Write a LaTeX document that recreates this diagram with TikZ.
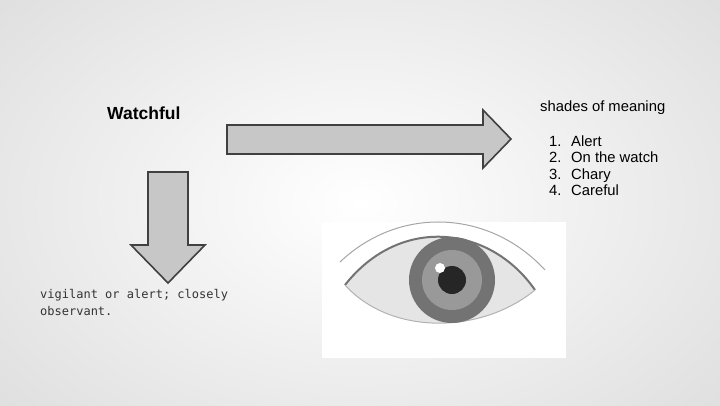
\documentclass[tikz,border=0pt]{standalone}
\usepackage{fontspec}
\setmainfont{Liberation Sans}
\newfontfamily\monof{DejaVu Sans Mono}
\begin{document}
\begin{tikzpicture}[x=1pt,y=-1pt,
  arrowshape/.style={fill=black!22,draw=black!75,line width=1.6pt,line join=miter},
  txt/.style={inner sep=0pt,anchor=base west,font=\fontsize{14.8pt}{16pt}\selectfont}]
\useasboundingbox (0,0) rectangle (720,405);
\shade[inner color=white,outer color=black!12] (-100,-100) rectangle (820,505);
\node[inner sep=0pt,anchor=base west,font=\bfseries\fontsize{17.5pt}{18pt}\selectfont] (title) at (107,119) {Watchful};
\draw[arrowshape] (227,125) -- (483,125) -- (483,110) -- (511,139) -- (483,168) -- (483,154) -- (227,154) -- cycle;
\draw[arrowshape] (148,172) -- (188,172) -- (188,245) -- (205,245) -- (168,283) -- (131,245) -- (148,245) -- cycle;
\node[txt] (shades) at (540,111) {shades of meaning};
\node[txt] (n1) at (549,146) {1.}; \node[txt] (l1) at (571,146) {Alert};
\node[txt] (n2) at (549,162) {2.}; \node[txt] (l2) at (571,162) {On the watch};
\node[txt] (n3) at (549,179) {3.}; \node[txt] (l3) at (571,179) {Chary};
\node[txt] (n4) at (549,195) {4.}; \node[txt] (l4) at (571,195) {Careful};
\node[txt,font=\monof\fontsize{12pt}{17pt}\selectfont,text=black!80] (def1) at (40,298) {vigilant or alert; closely};
\node[txt,font=\monof\fontsize{12pt}{17pt}\selectfont,text=black!80] (def2) at (40,315) {observant.};
% eye picture
\fill[white] (322,222) rectangle (566,358);
\fill[black!10] (345,285) .. controls (400,215) and (490,225) .. (535,290) .. controls (480,335) and (390,335) .. (345,285);
\draw[black!55,line width=2pt] (345,285) .. controls (400,215) and (490,225) .. (535,290);
\draw[black!30,line width=1pt] (345,285) .. controls (390,335) and (480,335) .. (535,290);
\draw[black!35,line width=1pt] (340,262) .. controls (400,205) and (490,210) .. (545,270);
\fill[black!55] (452,280) circle (43);
\fill[black!40] (452,280) circle (30);
\fill[black!85] (452,280) circle (14);
\fill[white] (440,268) circle (5);
\end{tikzpicture}
\end{document}
